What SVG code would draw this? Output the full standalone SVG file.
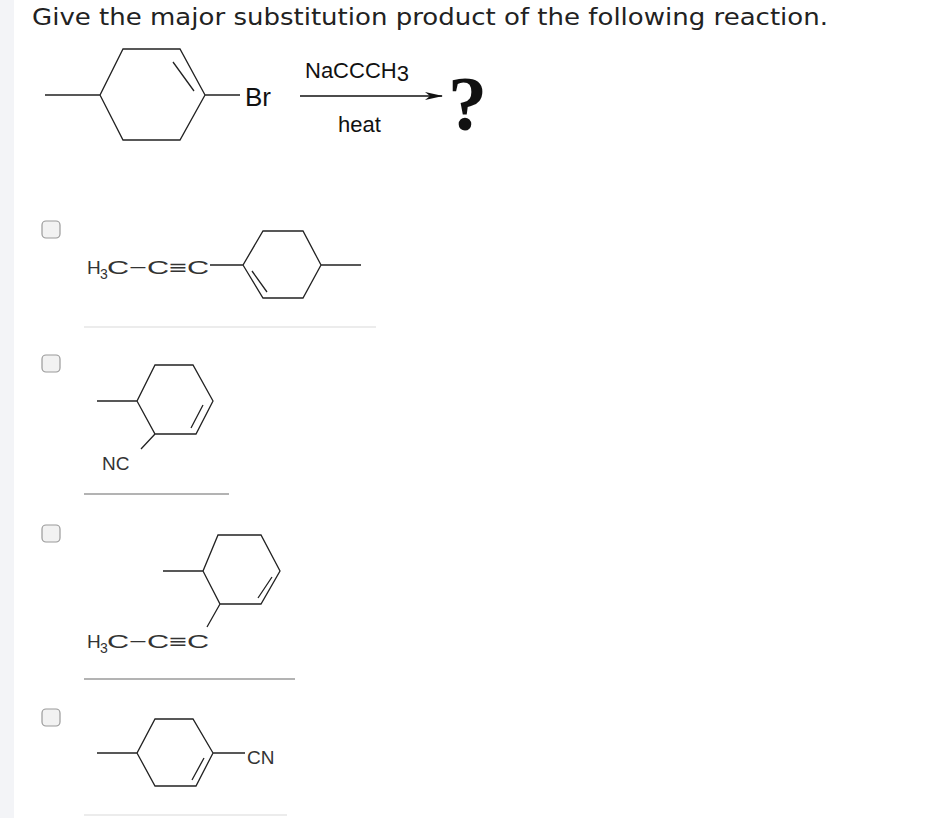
<svg xmlns="http://www.w3.org/2000/svg" width="946" height="818" viewBox="0 0 946 818">
<style>
.b{stroke:#222;stroke-width:1.3;fill:none}
.t{font-family:"Liberation Sans",Arial,sans-serif;font-size:19px;fill:#333}
.s{font-family:"Liberation Sans",Arial,sans-serif;font-size:14px;fill:#333}
.cb{fill:#f2f2f2;stroke:#9a9a9a;stroke-width:1.2}
</style>
<defs><marker id="ah" markerWidth="18" markerHeight="8" refX="17" refY="4" orient="auto" markerUnits="userSpaceOnUse"><path d="M0,0 L18,4 L0,8 L5,4 Z" fill="#111"/></marker></defs>
<rect width="946" height="818" fill="#fff"/>
<rect x="0" y="0" width="14" height="818" fill="#f3f4f7"/>
<text x="32" y="25" font-family="DejaVu Sans,Verdana,sans-serif" font-size="23" fill="#222" textLength="796" lengthAdjust="spacingAndGlyphs">Give the major substitution product of the following reaction.</text>
<g id="reactant">
<path class="b" d="M45,95H100L123,49H180L205,95L180,140H123L100,95M173,62L194,91M205,95H240"/>
<text x="245" y="106" font-family="Liberation Sans,Arial,sans-serif" font-size="26" fill="#111">Br</text>
</g>
<g id="connectors">
<line x1="300" y1="96" x2="442" y2="96" stroke="#111" stroke-width="1.3" marker-end="url(#ah)"/>
</g>
<text x="305" y="78" font-family="Liberation Sans,Arial,sans-serif" font-size="22" fill="#111">NaCCCH<tspan dy="3">3</tspan></text>
<text x="338" y="132" font-family="Liberation Sans,Arial,sans-serif" font-size="22" fill="#111">heat</text>
<text x="448" y="130" font-family="Liberation Serif,serif" font-weight="bold" font-size="78" fill="#111">?</text>
<g id="checkboxes">
<rect class="cb" x="42" y="221" width="18" height="17" rx="4"/>
<rect class="cb" x="42" y="355" width="18" height="17" rx="4"/>
<rect class="cb" x="42" y="525" width="18" height="17" rx="4"/>
<rect class="cb" x="42" y="709" width="18" height="17" rx="4"/>
</g>
<g id="option1">
<text class="t" x="87" y="274">H</text><text class="s" x="100" y="279">3</text>
<text class="t" x="107" y="274" textLength="102" lengthAdjust="spacingAndGlyphs">C−C≡C</text>
<path class="b" d="M210,265H243L263,231H303L321,265L303,298H263L243,265M252,271L267,292M321,265H361"/>
<line x1="84" y1="327" x2="376" y2="327" stroke="#e6e6e6" stroke-width="1.5"/>
</g>
<g id="option2">
<path class="b" d="M97,401H137L155,365H193L213,401L196,434H155L137,401M203,405L191,428M155,434L141,449"/>
<text class="t" x="102" y="470">NC</text>
<line x1="84" y1="494" x2="229" y2="494" stroke="#9a9a9a" stroke-width="1.5"/>
</g>
<g id="option3">
<path class="b" d="M163,571H203L218,535H261L280,571L261,604H220L203,571M272,577L258,598M220,604L207,627"/>
<text class="t" x="87" y="648">H</text><text class="s" x="100" y="653">3</text>
<text class="t" x="107" y="648" textLength="102" lengthAdjust="spacingAndGlyphs">C−C≡C</text>
<line x1="84" y1="679" x2="295" y2="679" stroke="#9a9a9a" stroke-width="1.5"/>
</g>
<g id="option4">
<path class="b" d="M97,753H137L155,719H193L213,753L196,786H155L137,753M204,758L192,780M213,753H245"/>
<text class="t" x="247" y="764">CN</text>
<line x1="84" y1="815" x2="287" y2="815" stroke="#e6e6e6" stroke-width="1.5"/>
</g>
</svg>
